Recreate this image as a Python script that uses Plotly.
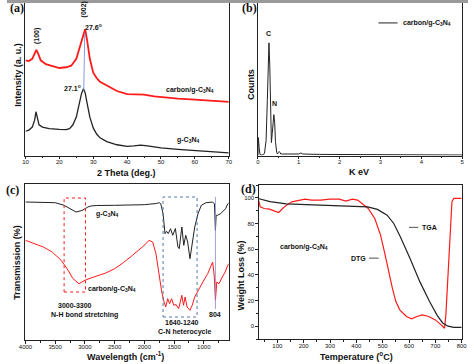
import plotly.graph_objects as go

# ---------------- (a) XRD ----------------
xrd_theta_g = [10, 11, 12, 12.7, 13.1, 13.5, 14, 15, 17, 20, 22, 23, 24, 25, 25.8, 26.5, 27.1, 27.6, 28.2, 29, 30, 31, 32, 34, 37, 40, 42, 44, 46, 50, 55, 60, 65, 70]
xrd_int_g = [15.8, 16.5, 18.5, 23, 28.5, 24, 20, 18.5, 17.5, 17, 16.8, 17.5, 20, 25, 33, 40, 43.5, 41, 34, 25, 18, 14, 11.5, 9, 7, 6, 6.3, 6.8, 6.2, 5, 4, 3.2, 2.4, 1.7]
xrd_theta_c = [10, 11, 12, 12.7, 13.2, 13.8, 14.5, 16, 18, 20, 22, 23.5, 25, 26, 26.8, 27.6, 28.2, 29, 30, 31, 32, 34, 37, 40, 43, 45, 48, 50, 55, 60, 65, 70]
xrd_int_c = [62, 61.5, 63, 66, 68.8, 66, 62, 59.5, 58, 57, 57.5, 58.5, 63, 70, 77, 82.3, 75, 63, 54, 50.5, 48, 45.5, 42, 40, 39.5, 39.6, 38.5, 38, 37, 36.4, 35.5, 35]

# ---------------- (b) EDS ----------------
eds_kev = [0, 0.01, 0.03, 0.05, 0.08, 0.12, 0.16, 0.2, 0.23, 0.25, 0.27, 0.29, 0.31, 0.33, 0.35, 0.37, 0.39, 0.41, 0.43, 0.46, 0.48, 0.5, 0.52, 0.54, 0.56, 0.6, 0.8, 1.0, 1.05, 1.1, 1.5, 2, 3, 4, 5]
eds_counts = [0, 18, 8, 1, 0.5, 0.8, 2, 15, 55, 90, 113, 90, 40, 13, 22, 36, 41, 33, 14, 3, 1.5, 3, 4, 3, 1.5, 1.5, 1.2, 1.5, 2.5, 1.5, 1.1, 1, 0.8, 0.6, 0.5]

# ---------------- (c) FTIR ----------------
ir_wn_g = [4000, 3700, 3500, 3350, 3250, 3150, 3050, 3000, 2950, 2900, 2800, 2500, 2200, 2000, 1800, 1750, 1724, 1685, 1652, 1626, 1598, 1560, 1522, 1478, 1435, 1413, 1369, 1337, 1304, 1271, 1233, 1195, 1152, 1097, 1042, 961, 900, 851, 820, 804, 792, 771, 716, 634, 595, 580]
ir_t_g = [138, 137.5, 137.3, 134.7, 131, 128, 129.5, 131.3, 133, 134, 134.5, 134.7, 135, 135.3, 136.5, 137.3, 136.3, 126.3, 106.3, 108.7, 106.3, 111.3, 104.7, 111.5, 93, 91.3, 113, 94.7, 104.7, 98, 81.3, 96.3, 113, 126.3, 134.7, 137.3, 138, 138, 136, 109.7, 124.7, 124.7, 126.3, 131.3, 136.3, 137]
ir_wn_c = [4000, 3850, 3700, 3550, 3400, 3300, 3200, 3100, 3000, 2900, 2800, 2650, 2500, 2350, 2200, 2100, 2000, 1920, 1860, 1805, 1750, 1707, 1668, 1640, 1607, 1575, 1542, 1504, 1467, 1423, 1369, 1341, 1314, 1281, 1233, 1195, 1152, 1097, 1016, 934, 879, 851, 825, 804, 781, 744, 689, 640, 608, 580]
ir_t_c = [99.7, 96.5, 93, 88, 79.7, 71.3, 61.3, 56.3, 59.7, 62, 63.7, 67, 71.3, 77.5, 84.7, 89.5, 94.7, 99.7, 98, 86.3, 64.7, 48, 38, 33, 41.3, 36.3, 41.3, 34.7, 35.5, 31.3, 44.7, 34.7, 43, 33, 29.7, 34.7, 43, 49.7, 58, 66.3, 73, 78, 64.7, 39.7, 58, 56.3, 63, 68, 73, 76.3]

# ---------------- (d) TGA / DTG ----------------
tga_temp = [27, 72, 134, 258, 381, 443, 480, 517, 542, 567, 604, 641, 678, 708, 728, 748, 770, 800]
tga_wt = [99.5, 97, 95.3, 94.3, 93.8, 93, 91, 86.5, 80, 69.7, 52.8, 34.7, 19.2, 8, 2.5, 0, -1, -1]
dtg_temp = [27, 35, 50, 70, 90, 105, 120, 135, 155, 180, 205, 230, 265, 300, 335, 360, 385, 405, 420, 445, 470, 492, 508, 525, 537, 550, 565, 590, 610, 630, 650, 675, 700, 722, 735, 740, 747, 753, 758, 763, 770, 800]
dtg_val = [99.5, 93, 91.7, 91.2, 89.6, 88.6, 91.7, 94.3, 96.9, 98.2, 99, 98.2, 98.2, 99, 99, 97.5, 99, 98.2, 95.6, 91.7, 83.9, 71, 56.7, 39.9, 29.5, 19.2, 12.7, 7.5, 5.7, 7.5, 8.8, 7.5, 4.9, 1, -1.6, 8.8, 34.7, 60.6, 81.3, 96.9, 99.5, 99.5]

RED = "#ff1a1a"
BLK = "#222222"
TF = dict(family="Liberation Sans, Arial", size=6, color="#111")
AF = dict(family="Liberation Sans, Arial", size=9, color="#111")
LF = dict(family="Liberation Sans, Arial", size=7, color="#111")
PF = dict(family="Liberation Serif, Times New Roman", size=12, color="#111")

fig = go.Figure()
fig.add_trace(go.Scatter(x=xrd_theta_c, y=xrd_int_c, mode="lines", line=dict(color=RED, width=1.8), xaxis="x", yaxis="y"))
fig.add_trace(go.Scatter(x=xrd_theta_g, y=xrd_int_g, mode="lines", line=dict(color=BLK, width=1.3), xaxis="x", yaxis="y"))
fig.add_trace(go.Scatter(x=eds_kev, y=eds_counts, mode="lines", line=dict(color=BLK, width=1), xaxis="x2", yaxis="y2"))
fig.add_trace(go.Scatter(x=ir_wn_g, y=ir_t_g, mode="lines", line=dict(color=BLK, width=1), xaxis="x3", yaxis="y3"))
fig.add_trace(go.Scatter(x=ir_wn_c, y=ir_t_c, mode="lines", line=dict(color=RED, width=1), xaxis="x3", yaxis="y3"))
fig.add_trace(go.Scatter(x=dtg_temp, y=dtg_val, mode="lines", line=dict(color=RED, width=1.2), xaxis="x4", yaxis="y4"))
fig.add_trace(go.Scatter(x=tga_temp, y=tga_wt, mode="lines", line=dict(color=BLK, width=1.2), xaxis="x4", yaxis="y4"))

W, H = 474, 364
def dx(a, b):
    return [a / W, b / W]
def dy(top, bot):
    return [(H - bot) / H, (H - top) / H]

def xax(dom, anchor, rng, dtick, minor_dtick, show=True, tick0=None, standoff=-2):
    d = dict(domain=dom, anchor=anchor, range=rng, showline=True, linecolor="#222", linewidth=1,
             mirror=True, ticks="outside" if show else "", ticklen=2.5, tickwidth=1, tickcolor="#222",
             showgrid=False, zeroline=False, tickfont=TF, showticklabels=show, dtick=dtick,
             ticklabelstandoff=standoff)
    if tick0 is not None:
        d["tick0"] = tick0
    if show and minor_dtick:
        d["minor"] = dict(dtick=minor_dtick, ticks="outside", ticklen=1.5, tickwidth=1, tickcolor="#222", showgrid=False)
    return d

fig.update_layout(
    width=W, height=H, margin=dict(l=0, r=0, t=0, b=0), showlegend=False,
    paper_bgcolor="white", plot_bgcolor="white",
    xaxis=xax(dx(19, 228), "y", [10, 70], 10, 5),
    yaxis=xax(dy(2, 155.5), "x", [0, 100], None, None, show=False),
    xaxis2=xax(dx(258, 468), "y2", [0, 5], 1, 0.5),
    yaxis2=xax(dy(2, 155.5), "x2", [0, 154], None, None, show=False),
    xaxis3=xax(dx(19, 228), "y3", [4000, 580], 500, 250, tick0=4000),
    yaxis3=xax(dy(184, 340), "x3", [0, 156], None, None, show=False),
    xaxis4=xax(dx(259, 467.5), "y4", [30, 800], 100, 50, tick0=0),
    yaxis4=xax(dy(185, 339), "x4", [-10, 110], 20, 10, tick0=0, standoff=0),
)

ann = []
def A(text, x, y, xref="paper", yref="paper", font=LF, **kw):
    d = dict(text=text, x=x, y=y, xref=xref, yref=yref, showarrow=False, font=font,
             xanchor="center", yanchor="middle")
    d.update(kw)
    ann.append(d)

def px(xp, yp):
    return xp / W, (H - yp) / H

# panel letters
A("<b>(a)</b>", *px(10, 8), font=PF)
A("<b>(b)</b>", *px(249, 8), font=PF)
A("<b>(c)</b>", *px(6, 190), font=PF)
A("<b>(d)</b>", *px(248, 189), font=PF)

# axis titles
A("<b>2 Theta (deg.)</b>", *px(123, 173), font=AF)
A("<b>Intensity (a. u.)</b>", *px(11, 75), font=AF, textangle=-90)
A("<b>K eV</b>", *px(362, 172), font=AF)
A("<b>Counts</b>", *px(251, 85), font=AF, textangle=-90)
A("<b>Wavelength (cm<sup>-1</sup>)</b>", *px(122, 356), font=AF)
A("<b>Transmission (%)</b>", *px(10, 262), font=AF, textangle=-90)
A("<b>Temperature (<sup>o</sup>C)</b>", *px(359, 356), font=AF)
A("<b>Weight Loss (%)</b>", *px(241, 275), font=AF, textangle=-90)

# (a) annotations
A("<b>(100)</b>", 13.2, 78, "x", "y", textangle=-90)
A("<b>(002)</b>", 27.2, 95, "x", "y", textangle=-90)
A("<b>27.6<sup>o</sup></b>", 30.2, 84, "x", "y")
A("<b>27.1<sup>o</sup></b>", 24.0, 44, "x", "y")
A("<b>carbon/g-C<sub>3</sub>N<sub>4</sub></b>", 58.5, 43, "x", "y")
A("<b>g-C<sub>3</sub>N<sub>4</sub></b>", 58, 10, "x", "y")

# (b)
A("<b>C</b>", 0.27, 122, "x2", "y2")
A("<b>N</b>", 0.41, 52, "x2", "y2")
A("<b>carbon/g-C<sub>3</sub>N<sub>4</sub></b>", 3.5, 133, "x2", "y2", xanchor="left")

# (c)
A("<b>g-C<sub>3</sub>N<sub>4</sub></b>", 2627, 125.7, "x3", "y3")
A("<b>carbon/g-C<sub>3</sub>N<sub>4</sub></b>", 2540, 51.3, "x3", "y3")
A("<b>3000-3300</b>", 3162, 34.7, "x3", "y3")
A("<b>N-H bond stretching</b>", 3008, 25.3, "x3", "y3")
A("<b>1640-1240</b>", 1369, 17.3, "x3", "y3")
A("<b>C-N heterocycle</b>", 1330, 8, "x3", "y3")
A("<b>804</b>", 814, 25.3, "x3", "y3")

# (d)
A("<b>carbon/g-C<sub>3</sub>N<sub>4</sub></b>", 200, 62, "x4", "y4")
A("<b>TGA</b>", 640, 77, "x4", "y4", xanchor="left")
A("<b>DTG</b>", 445, 53, "x4", "y4", xanchor="right")

fig.update_layout(annotations=ann)

shapes = [
    dict(type="rect", xref="paper", yref="paper", x0=0, x1=1, y0=1 - 3 / H, y1=1, fillcolor="#9a9a9a", line=dict(width=0)),
    dict(type="line", xref="x", yref="y", x0=27.5, x1=27.2, y0=80, y1=42, line=dict(color="#6a7fd0", width=0.8)),
    dict(type="line", xref="x2", yref="y2", x0=2.95, x1=3.42, y0=133, y1=133, line=dict(color=BLK, width=1)),
    dict(type="rect", xref="x3", yref="y3", x0=3350, x1=2990, y0=48, y1=142, line=dict(color=RED, width=1, dash="dot")),
    dict(type="rect", xref="x3", yref="y3", x0=1685, x1=1113, y0=23, y1=143, line=dict(color="#5577aa", width=1, dash="dot")),
    dict(type="line", xref="x3", yref="y3", x0=804, x1=804, y0=31, y1=143, line=dict(color="#8888cc", width=0.8)),
    dict(type="line", xref="x4", yref="y4", x0=600, x1=635, y0=77, y1=77, line=dict(color=BLK, width=0.8)),
    dict(type="line", xref="x4", yref="y4", x0=448, x1=485, y0=53, y1=53, line=dict(color=BLK, width=0.8)),
]
fig.update_layout(shapes=shapes)

fig.write_html("out.html", config={"displayModeBar": False},
               post_script="document.body.style.margin='0';document.body.style.padding='0';document.body.style.overflow='hidden';")
